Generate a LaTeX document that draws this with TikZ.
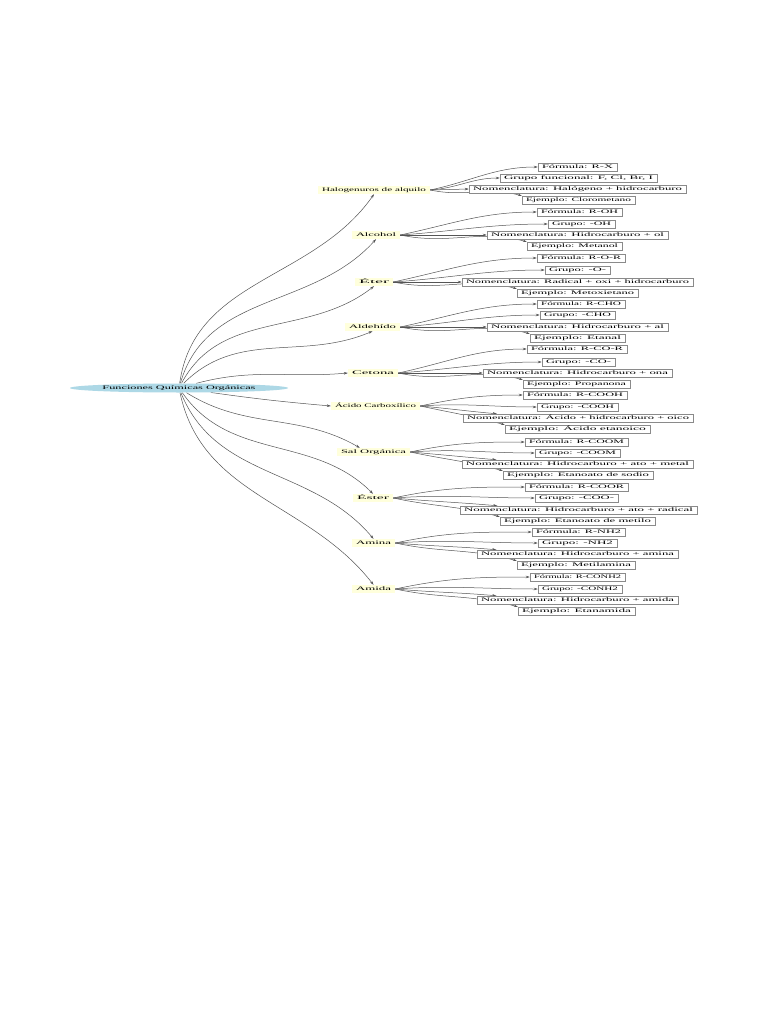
\documentclass[tikz,border=0pt]{standalone}
\usepackage{fontspec}
\setmainfont{Liberation Serif}
\usepackage{graphicx}
\usetikzlibrary{arrows.meta,shapes.geometric}
\pgfdeclarelayer{bglayer}
\pgfdeclarelayer{edgelayer}
\pgfsetlayers{bglayer,edgelayer,main}
\definecolor{edgecol}{HTML}{555555}
\definecolor{boxcol}{HTML}{8A8A8A}
\definecolor{yel}{HTML}{FFFFDC}
\definecolor{blu}{HTML}{ADD8E6}
\newcommand\fitw[2]{\resizebox{#1}{4.6pt}{\vphantom{Ág}#2}}
\newcommand\leafn[5]{\node[leafbox] (#1) at ({(#2+#3)/2},-#4) {\fitw{\dimexpr#3pt-#2pt-8pt\relax}{#5}};}
\newcommand\branchn[5]{\node[branchbox] (#1) at ({(#2+#3)/2},-#4) {\fitw{\dimexpr#3pt-#2pt-8pt\relax}{#5}};}
\newcommand\fanA[5]{%
  \draw[edge] (#1.east) to[out=12,in=180] (#2.west);
  \draw[edge] (#1.east) to[out=4,in=180] (#3.west);
  \draw[edge] (#1.east) -- (#4.west);
  \draw[edge] (#1.east) to[out=-12,in=165] (#5.north west);}
\newcommand\fanB[5]{%
  \draw[edge] (#1.east) to[out=12,in=180] (#2.west);
  \draw[edge] (#1.east) to[out=4,in=180] (#3.west);
  \draw[edge] (#1.east) to[out=-5,in=175] (#4.177);
  \draw[edge] (#1.east) to[out=-12,in=165] (#5.north west);}
\tikzset{
  leafbox/.style={draw=boxcol, line width=0.5pt, fill=white, inner xsep=4pt, inner ysep=0pt, minimum height=8pt, text=black},
  branchbox/.style={fill=yel, inner xsep=4pt, inner ysep=0pt, minimum height=8pt, text=black},
  centerbox/.style={ellipse, fill=blu, inner sep=0pt, minimum width=218pt, minimum height=9pt},
  edge/.style={draw=edgecol, line width=0.5pt, -{Stealth[length=4pt,width=2.6pt]}}
}
\begin{document}
\begin{tikzpicture}[x=1pt,y=1pt]
\useasboundingbox (0,0) rectangle (768,-1024);
\begin{pgfonlayer}{bglayer}
\fill[white] (0,0) rectangle (768,-1024);
\end{pgfonlayer}
\node[centerbox] (c) at (179,-388) {\fitw{153pt}{Funciones Químicas Orgánicas}};
% branches
\branchn{b1}{318}{430}{190}{Halogenuros de alquilo}
\branchn{b2}{352}{400}{235}{Alcohol}
\branchn{b3}{355}{393}{282}{Éter}
\branchn{b4}{345}{400}{327}{Aldehído}
\branchn{b5}{348}{398}{373}{Cetona}
\branchn{b6}{331}{420}{406}{Ácido Carboxílico}
\branchn{b7}{337}{410}{452}{Sal Orgánica}
\branchn{b8}{353}{393}{498}{Éster}
\branchn{b9}{352}{395}{543}{Amina}
\branchn{b10}{352}{395}{589}{Amida}
% leaves
\leafn{l11}{538}{617}{167}{Fórmula: R-X}
\leafn{l12}{500}{657}{178}{Grupo funcional: F, Cl, Br, I}
\leafn{l13}{469}{686}{189}{Nomenclatura: Halógeno + hidrocarburo}
\leafn{l14}{522}{635}{200}{Ejemplo: Clorometano}
\leafn{l21}{537}{622}{212}{Fórmula: R-OH}
\leafn{l22}{548}{615}{224}{Grupo: -OH}
\leafn{l23}{487}{668}{235}{Nomenclatura: Hidrocarburo + ol}
\leafn{l24}{527}{622}{246}{Ejemplo: Metanol}
\leafn{l31}{537}{625}{258}{Fórmula: R-O-R}
\leafn{l32}{545}{610}{270}{Grupo: -O-}
\leafn{l33}{462}{693}{282}{Nomenclatura: Radical + oxi + hidrocarburo}
\leafn{l34}{517}{638}{293}{Ejemplo: Metoxietano}
\leafn{l41}{537}{625}{304}{Fórmula: R-CHO}
\leafn{l42}{540}{615}{315}{Grupo: -CHO}
\leafn{l43}{487}{668}{327}{Nomenclatura: Hidrocarburo + al}
\leafn{l44}{530}{625}{338}{Ejemplo: Etanal}
\leafn{l51}{527}{627}{349}{Fórmula: R-CO-R}
\leafn{l52}{542}{615}{362}{Grupo: -CO-}
\leafn{l53}{483}{672}{373}{Nomenclatura: Hidrocarburo + ona}
\leafn{l54}{523}{630}{384}{Ejemplo: Propanona}
\leafn{l61}{523}{627}{395}{Fórmula: R-COOH}
\leafn{l62}{537}{618}{407}{Grupo: -COOH}
\leafn{l63}{463}{693}{418}{Nomenclatura: Ácido + hidrocarburo + oico}
\leafn{l64}{505}{650}{429}{Ejemplo: Ácido etanoico}
\leafn{l71}{525}{628}{442}{Fórmula: R-COOM}
\leafn{l72}{535}{620}{453}{Grupo: -COOM}
\leafn{l73}{462}{693}{464}{Nomenclatura: Hidrocarburo + ato + metal}
\leafn{l74}{503}{653}{475}{Ejemplo: Etanoato de sodio}
\leafn{l81}{525}{628}{487}{Fórmula: R-COOR}
\leafn{l82}{535}{618}{498}{Grupo: -COO-}
\leafn{l83}{460}{697}{510}{Nomenclatura: Hidrocarburo + ato + radical}
\leafn{l84}{500}{655}{521}{Ejemplo: Etanoato de metilo}
\leafn{l91}{532}{625}{532}{Fórmula: R-NH2}
\leafn{l92}{538}{617}{543}{Grupo: -NH2}
\leafn{l93}{477}{678}{554}{Nomenclatura: Hidrocarburo + amina}
\leafn{l94}{517}{635}{565}{Ejemplo: Metilamina}
\leafn{lA1}{530}{625}{577}{Fórmula: R-CONH2}
\leafn{lA2}{538}{622}{589}{Grupo: -CONH2}
\leafn{lA3}{477}{678}{600}{Nomenclatura: Hidrocarburo + amida}
\leafn{lA4}{518}{635}{611}{Ejemplo: Etanamida}
\begin{pgfonlayer}{edgelayer}
% center to branches
\draw[edge] (c) to[out=82,in=235] (b1.south);
\draw[edge] (c) to[out=74,in=228] (b2.south);
\draw[edge] (c) to[out=62,in=218] (b3.south);
\draw[edge] (c) to[out=45,in=203] (b4.south);
\draw[edge] (c) to[out=15,in=185] (b5.west);
\draw[edge] (c) to[out=-8,in=175] (b6.west);
\draw[edge] (c) to[out=-32,in=150] (b7.163);
\draw[edge] (c) to[out=-55,in=135] (b8.north);
\draw[edge] (c) to[out=-68,in=130] (b9.north);
\draw[edge] (c) to[out=-78,in=128] (b10.north);
% branches to leaves
\fanA{b1}{l11}{l12}{l13}{l14}
\fanA{b2}{l21}{l22}{l23}{l24}
\fanA{b3}{l31}{l32}{l33}{l34}
\fanA{b4}{l41}{l42}{l43}{l44}
\fanA{b5}{l51}{l52}{l53}{l54}
\fanB{b6}{l61}{l62}{l63}{l64}
\fanB{b7}{l71}{l72}{l73}{l74}
\fanB{b8}{l81}{l82}{l83}{l84}
\fanB{b9}{l91}{l92}{l93}{l94}
\fanB{b10}{lA1}{lA2}{lA3}{lA4}
\end{pgfonlayer}
\end{tikzpicture}
\end{document}
